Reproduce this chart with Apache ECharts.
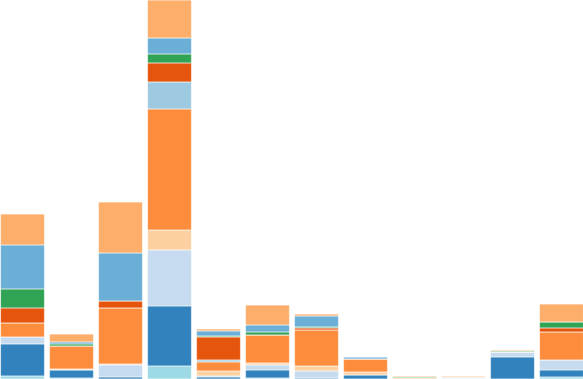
<!DOCTYPE html>
<html>
<head>
<meta charset="utf-8">
<script src="https://cdn.jsdelivr.net/npm/echarts@6/dist/echarts.min.js"></script>
<style>html,body{margin:0;padding:0;background:#fff;overflow:hidden;}#c{position:absolute;left:-2px;top:0;width:588px;height:379px;}</style>
</head>
<body>
<div id="c"></div>
<script>
var categories = ['1','2','3','4','5','6','7','8','9','10','11','12'];
var seriesNames = ['s1','s2','s3','s4','s5','s6','s7','s8','s9','s10'];
var seriesColors = ['#9edae5','#3182bd','#c6dbef','#fdd0a2','#fd8d3c','#9ecae1','#e6550d','#31a354','#6baed6','#fdae6b'];
var s1  = [3, 1, 0, 13, 0, 1, 0, 0, 0, 0, 0, 2];
var s2  = [32, 8, 2, 60, 2, 8, 1, 4, 0, 0, 22, 7];
var s3  = [7, 0, 12, 56, 1, 5, 7, 0, 0, 1, 5, 10];
var s4  = [0, 1, 1, 20, 5, 2, 5, 3, 0, 0, 0, 0];
var s5  = [14, 23, 56, 121, 9, 28, 36, 13, 1, 0, 0, 28];
var s6  = [0, 0, 0, 27, 2, 0, 0, 0, 0, 1, 0, 0];
var s7  = [15, 0, 7, 19, 23, 0, 2, 0, 0, 0, 0, 4];
var s8  = [19, 2, 0, 9, 1, 3, 1, 0, 1, 0, 1, 6];
var s9  = [44, 2, 48, 16, 5, 7, 11, 2, 0, 0, 0, 0];
var s10 = [31, 8, 51, 38, 2, 20, 2, 0, 1, 1, 1, 18];
var seriesData = [s1, s2, s3, s4, s5, s6, s7, s8, s9, s10];

var chart = echarts.init(document.getElementById('c'));
chart.setOption({
  animation: false,
  grid: {left: 0, right: 0, top: 0, bottom: 0},
  xAxis: {type: 'category', data: categories, show: false},
  yAxis: {type: 'value', min: 0, max: 379, show: false},
  series: seriesData.map(function (d, i) {
    return {
      name: seriesNames[i],
      type: 'bar',
      stack: 'total',
      data: d,
      barWidth: 44,
      itemStyle: {color: seriesColors[i], borderColor: 'rgba(255,255,255,0.4)', borderWidth: 0.5}
    };
  })
});
</script>
</body>
</html>
